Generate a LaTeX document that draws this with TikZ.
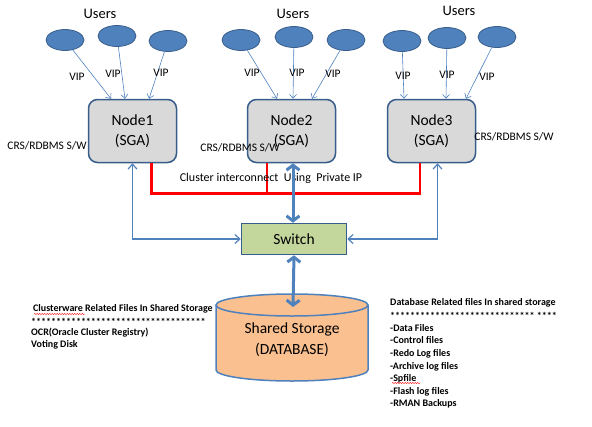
\documentclass[tikz,border=0pt]{standalone}
\usepackage{fontspec}
\setmainfont{Carlito}
\usetikzlibrary{positioning,arrows.meta,shapes.geometric,decorations.pathmorphing}
\definecolor{userblue}{HTML}{4F81BD}
\definecolor{edgeblue}{HTML}{385D8A}
\definecolor{boxgray}{HTML}{D9D9D9}
\definecolor{switchgreen}{HTML}{C3D69B}
\definecolor{dborange}{HTML}{FAC090}
\definecolor{busred}{HTML}{FF0000}

\begin{document}
\begin{tikzpicture}
   [x=1pt,y=-1pt,
    user/.style={ellipse,draw=edgeblue,fill=userblue,line width=0.8pt,
     minimum width=38pt,minimum height=21pt,inner sep=0pt},
    server/.style={rectangle,rounded corners=9pt,draw=edgeblue,fill=boxgray,
     line width=1.5pt,minimum width=88pt,minimum height=63pt,align=center,
     font=\fontsize{15.5}{19.5}\selectfont},
    switchbox/.style={rectangle,draw=edgeblue,fill=switchgreen,line width=1.5pt,
     minimum width=105pt,minimum height=31pt,font=\fontsize{15.5}{17}\selectfont},
    vip/.style={-{Straight Barb[length=4pt,width=7pt]},userblue,line width=0.6pt},
    link/.style={{Straight Barb[length=5pt,width=9pt]}-{Straight Barb[length=5pt,width=9pt]},
     userblue,line width=1.2pt},
    fat/.style={{Straight Barb[length=5pt,width=13pt]}-{Straight Barb[length=5pt,width=13pt]},
     userblue,line width=3pt},
    bus/.style={busred,line width=2.8pt},
    small/.style={font=\fontsize{11.5}{12}\selectfont,inner sep=0pt},
    big/.style={font=\fontsize{14.5}{17}\selectfont,inner sep=0pt},
    note/.style={font=\fontsize{10}{12.6}\selectfont\bfseries,inner sep=0pt,align=left},
    squiggle/.style={busred,line width=0.4pt,decorate,
     decoration={snake,amplitude=0.6pt,segment length=2.5pt}}]
\useasboundingbox (0,0) rectangle (592,426);
% users
\node [big] (users1) at (100,14) {Users};
\node [big] (users2) at (293,14) {Users};
\node [big] (users3) at (459,11) {Users};
\node [user] (u1) at (65,40) {};
\node [user] (u2) at (117,36) {};
\node [user] (u3) at (168,41) {};
\node [user] (u4) at (241,40) {};
\node [user] (u5) at (294,37) {};
\node [user] (u6) at (346,40) {};
\node [user] (u7) at (402,41) {};
\node [user] (u8) at (447,38) {};
\node [user] (u9) at (497,37) {};
% cluster nodes
\node [server] (n1) at (132.5,131) {Node1\\(SGA)};
\node [server] (n2) at (291.5,131) {Node2\\(SGA)};
\node [server] (n3) at (431.5,131) {Node3\\(SGA)};
\node [switchbox] (sw) at (294,239) {Switch};
% VIP connections
\draw [vip] (u1) -- ([xshift=-21.5pt]n1.north);
\draw [vip] (u2) -- ([xshift=-7.5pt]n1.north);
\draw [vip] (u3) -- ([xshift=16.5pt]n1.north);
\draw [vip] (u4) -- ([xshift=-14.5pt]n2.north);
\draw [vip] (u5) -- ([xshift=1.5pt]n2.north);
\draw [vip] (u6) -- ([xshift=20.5pt]n2.north);
\draw [vip] (u7) -- ([xshift=-27.5pt]n3.north);
\draw [vip] (u8) -- ([xshift=14.5pt]n3.north);
\draw [vip] (u9) -- ([xshift=34.5pt]n3.north);
\node [small] (vip1) at (77,77) {VIP};
\node [small] (vip2) at (113,74) {VIP};
\node [small] (vip3) at (161,73) {VIP};
\node [small] (vip4) at (252,73) {VIP};
\node [small] (vip5) at (297,73) {VIP};
\node [small] (vip6) at (333,74) {VIP};
\node [small] (vip7) at (403,76) {VIP};
\node [small] (vip8) at (447,75) {VIP};
\node [small] (vip9) at (487,77) {VIP};
\node [small] (crs1) at (47,146) {CRS/RDBMS S/W};
\node [small] (crs2) at (240,148) {CRS/RDBMS S/W};
\node [small] (crs3) at (514,137) {CRS/RDBMS S/W};
% private interconnect
\draw [bus] ([xshift=19pt]n1.south) -- ++(0,30) -| ([xshift=-11.5pt]n3.south);
\draw [bus] ([xshift=-24.5pt]n2.south) -- ++(0,30);
\node [small,font=\fontsize{12}{14}\selectfont] (icon) at (271,178) {Cluster interconnect \ Using \ Private IP};
% public network
\draw [link] (n1.south) |- (sw.west);
\draw [link] ([xshift=6pt]n3.south) |- (sw.east);
\coordinate (n2bot) at ([xshift=1.5pt]n2.south);
\draw [fat] (n2bot) -- (n2bot |- sw.north);
% shared storage
\filldraw [fill=dborange,draw=userblue,line width=1.5pt]
   (216,305) -- (216,370) .. controls (216,376.1) and (250,381) .. (292,381)
   .. controls (334,381) and (368,376.1) .. (368,370) -- (368,305);
\filldraw [fill=dborange,draw=userblue,line width=1.5pt] (292,305) ellipse [x radius=76,y radius=11];
\coordinate (dbtop) at (293,307);
\node [big,align=center,font=\fontsize{15.5}{21}\selectfont] (db) at (292,340) {Shared Storage\\(DATABASE)};
\draw [fat] (sw.south) -- (dbtop);
% file lists
\node [note,anchor=west] (clhead) at (33,309) {Clusterware Related Files In Shared Storage};
\node [note,anchor=west] (clstars) at (31,322) {***********************************};
\node [note,anchor=north west,font=\fontsize{10}{12}\selectfont\bfseries] (cllist) at (31,328)
   {OCR(Oracle Cluster Registry)\\Voting Disk};
\node [note,anchor=west] (dbhead) at (390,303) {Database Related files In shared storage};
\node [note,anchor=west] (dbstars) at (390,316) {***************************** ****};
\node [note,anchor=north west] (dblist) at (390,324)
   {-Data Files\\-Control files\\-Redo Log files\\-Archive log files\\-Spfile\\-Flash log files\\-RMAN Backups};
\draw [squiggle] (34,314) -- (85,314);
\draw [squiggle] (392,383) -- (420,383);
\end{tikzpicture}
\end{document}
